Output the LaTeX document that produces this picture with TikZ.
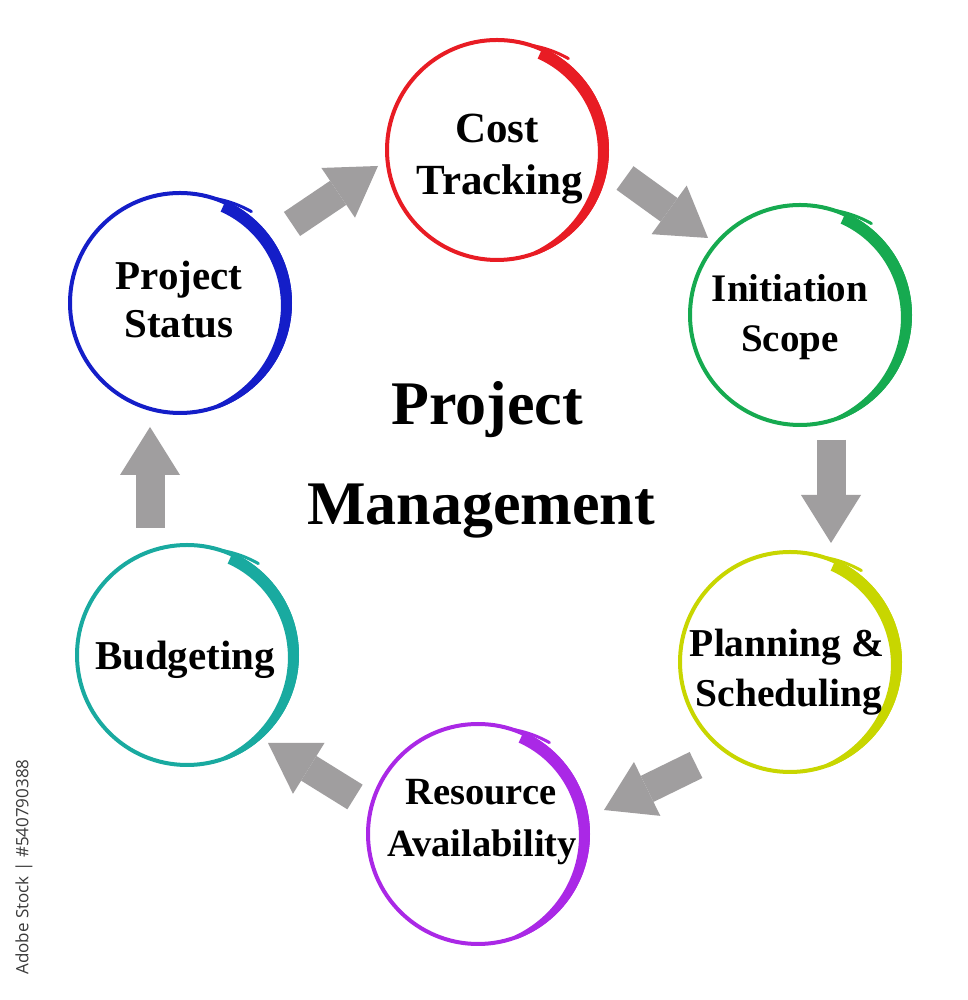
\documentclass[tikz,border=0pt]{standalone}
\usepackage{fontspec}
\setmainfont{Liberation Serif}
\newfontfamily\wmfont{Open Sans}
\usetikzlibrary{arrows.meta}
\definecolor{cred}{RGB}{232,28,36}
\definecolor{cgreen}{RGB}{22,170,80}
\definecolor{cyell}{RGB}{200,214,0}
\definecolor{cpurp}{RGB}{170,40,230}
\definecolor{cteal}{RGB}{25,170,160}
\definecolor{cblue}{RGB}{20,30,200}
\definecolor{arrowgray}{RGB}{160,158,159}
\definecolor{wmgray}{RGB}{58,58,58}
\tikzset{
  ring/.style={circle, draw=#1, line width=4pt, inner sep=0pt, minimum size=220pt},
  lbl/.style={anchor=base, inner sep=0pt, font=\bfseries\fontsize{#1}{#1}\selectfont},
  flow/.style={draw=arrowgray, line width=29pt, -{Triangle[length=48pt,width=60pt,line width=0pt]}}
}
% brush stroke: thick band inside the ring from 66 deg clockwise, plus thin overshoot
\newcommand\swirl[4]{%
  \begin{scope}[shift={(#1,#2)}]
    \fill[#4] plot[domain=66:-70,samples=70] (\x:{#3+2})
      -- plot[domain=-70:66,samples=70] (\x:{#3+2-4-8*(1-((66-\x)/136)^3)}) -- cycle;
    \draw[#4, line width=3pt, line cap=round] plot[domain=72:52,samples=15] (\x:{#3+(72-\x)/20*6});
  \end{scope}}
\begin{document}
\begin{tikzpicture}[x=1pt,y=1pt]
\useasboundingbox (0,0) rectangle (967,1000);
\fill[white] (0,0) rectangle (967,1000);

% circles
\node[ring=cred]   (ct) at (497,850) {};
\node[ring=cgreen] (is) at (800,685) {};
\node[ring=cyell]  (ps) at (790,338) {};
\node[ring=cpurp]  (ra) at (478,166) {};
\node[ring=cteal]  (bu) at (187,345) {};
\node[ring=cblue]  (st) at (180,697) {};
\swirl{497}{850}{110}{cred}
\swirl{800}{685}{110}{cgreen}
\swirl{790}{338}{110}{cyell}
\swirl{478}{166}{110}{cpurp}
\swirl{187}{345}{110}{cteal}
\swirl{180}{697}{110}{cblue}

% labels
\node[lbl=43] (ct1) at (497,857) {Cost};
\node[lbl=43] (ct2) at (500,805) {Tracking};
\node[lbl=39] (is1) at (790,698) {Initiation};
\node[lbl=39] (is2) at (790,648) {Scope};
\node[lbl=39.5] (ps1) at (787,343) {Planning \&};
\node[lbl=39.5] (ps2) at (789,293) {Scheduling};
\node[lbl=38.5] (ra1) at (481,195) {Resource};
\node[lbl=38.5] (ra2) at (482,143) {Availability};
\node[lbl=41] (bu1) at (185,330) {Budgeting};
\node[lbl=41] (st1) at (179,710) {Project};
\node[lbl=41] (st2) at (179,662) {Status};
\node[lbl=62] (pm1) at (487,575) {Project};
\node[lbl=62] (pm2) at (481,475) {Management};

% arrows
\coordinate (a1s) at (292,776); \coordinate (a1e) at (378,834);
\coordinate (a2s) at (625,822); \coordinate (a2e) at (708,762);
\coordinate (a3s) at (831,560); \coordinate (a3e) at (831,457);
\coordinate (a4s) at (696,235); \coordinate (a4e) at (604,190);
\coordinate (a5s) at (355,203); \coordinate (a5e) at (268,257);
\coordinate (a6s) at (150,472); \coordinate (a6e) at (150,573);
\draw[flow] (a1s) -- (a1e);
\draw[flow] (a2s) -- (a2e);
\draw[flow] (a3s) -- (a3e);
\draw[flow] (a4s) -- (a4e);
\draw[flow] (a5s) -- (a5e);
\draw[flow] (a6s) -- (a6e);

% side text
\node[rotate=90, text=wmgray, inner sep=0pt, font=\wmfont\fontsize{17}{17}\selectfont] (wm) at (24,133) {Adobe Stock | \#540790388};
\end{tikzpicture}
\end{document}
